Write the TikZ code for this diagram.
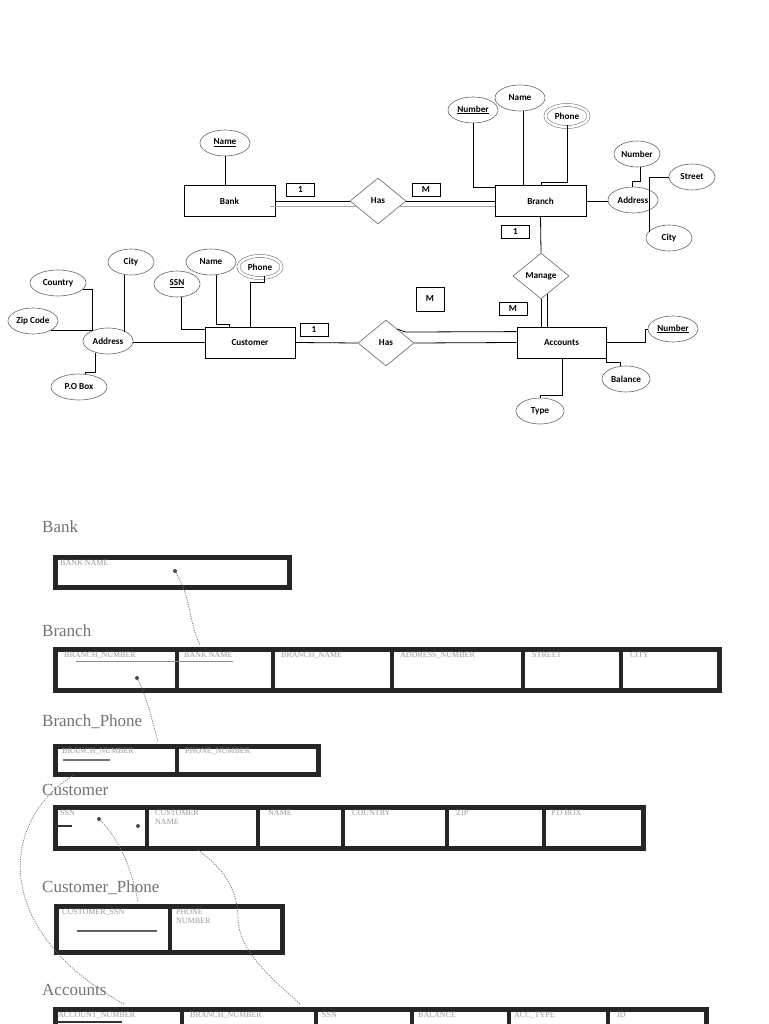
\documentclass[tikz,border=0pt]{standalone}
\usepackage{fontspec}
\setmainfont{Carlito}
\newfontfamily\schemafont{Liberation Serif}
\usetikzlibrary{shapes.geometric,calc}
\begin{document}
\begin{tikzpicture}[x=1pt,y=-1pt,
  erfont/.style={font=\bfseries\fontsize{9.2}{10}\selectfont},
  entity/.style={draw, line width=0.8pt, rectangle, inner sep=0pt, minimum height=31pt, erfont},
  attr/.style={draw=black!60, line width=0.6pt, ellipse, inner sep=0pt, minimum height=26pt, erfont},
  mattr/.style={draw=black!60, line width=0.5pt, double, double distance=2.5pt, ellipse, inner sep=0pt, minimum height=22pt, minimum width=43pt, erfont},
  rel/.style={draw=black!60, line width=0.6pt, diamond, inner sep=0pt, minimum width=56pt, minimum height=46pt, erfont},
  card/.style={draw, line width=0.8pt, rectangle, inner sep=0pt, minimum width=28pt, minimum height=13pt, erfont},
  conn/.style={line width=0.8pt},
  conng/.style={line width=0.8pt, draw=black!35},
  tbl/.style={draw=black!85, line width=5pt, rectangle, inner sep=0pt, anchor=north west},
  divl/.style={draw=black!85, line width=4pt},
  tname/.style={font=\schemafont\fontsize{17}{19}\selectfont, text=black!55, anchor=base west, inner sep=0pt},
  cell/.style={font=\schemafont\fontsize{8}{9}\selectfont, text=black!40, anchor=north west, inner sep=0pt, align=left},
  fk/.style={draw=black!55, line width=0.7pt, dash pattern=on 1.2pt off 1.2pt},
  keydot/.style={circle, fill=black!70, inner sep=0pt, minimum size=4pt}
]
\useasboundingbox[fill=white] (0,0) rectangle (768,1024);

% ================= ER diagram =================
% Bank
\node[entity, minimum width=91pt] (bank) at (229.5,201) {Bank};
\node[attr, minimum width=50pt] (bankname) at (225,143) {\underline{Name}};
\node[rel] (has1) at (378,201) {Has};
\node[card] (c1a) at (300.5,189.5) {1};
\node[card] (cMa) at (426,189.5) {M};

% Branch
\node[entity, minimum width=91pt] (branch) at (540.5,201) {Branch};
\node[attr, minimum width=50pt] (brnum) at (473,110) {\underline{Number}};
\node[attr, minimum width=50pt] (brname) at (520,98) {Name};
\node[mattr] (brphone) at (567,116) {Phone};
\node[attr, minimum width=50pt] (braddr) at (633,200) {Address};
\node[attr, minimum width=46pt] (adnum) at (637,154) {Number};
\node[attr, minimum width=46pt] (street) at (692,177) {Street};
\node[attr, minimum width=46pt] (brcity) at (669,238) {City};
\node[card] (c1b) at (515.5,231.5) {1};
\node[rel] (manage) at (541,276) {Manage};
\node[card] (cMb) at (513,309) {M};
\node[card, minimum height=24pt] (cMc) at (430,299) {M};

% Accounts
\node[entity, minimum width=89pt] (accounts) at (561.5,342.5) {Accounts};
\node[attr, minimum width=50pt] (acnum) at (673,329) {\underline{Number}};
\node[attr, minimum width=48pt] (balance) at (626,379) {Balance};
\node[attr, minimum width=48pt] (type) at (540,411) {Type};

% Customer
\node[rel] (has2) at (386,343) {Has};
\node[card] (c1c) at (314,329.5) {1};
\node[entity, minimum width=90pt] (customer) at (250,342.5) {Customer};
\node[attr, minimum width=46pt] (ssn) at (177,284) {\underline{SSN}};
\node[attr, minimum width=50pt] (cname) at (211,262) {Name};
\node[mattr] (cphone) at (260,267) {Phone};
\node[attr, minimum width=50pt] (caddr) at (108,341) {Address};
\node[attr, minimum width=46pt] (ccity) at (131,262) {City};
\node[attr, minimum width=56pt] (country) at (58,283) {Country};
\node[attr, minimum width=50pt] (zip) at (33,321) {Zip Code};
\node[attr, minimum width=56pt] (pobox) at (79,387) {P.O Box};

% ---- ER connectors
\draw[conn] (bankname.south) -- (bankname.south |- bank.north);
\draw[conn] (bank.east) -- (has1.west);
\draw[conng] ($(bank.east)+(-5,5)$) -- ($(has1.west)+(6,5)$);
\draw[conn] (has1.east) -- (branch.west);
\draw[conng] ($(has1.east)+(-6,5)$) -- ($(branch.west)+(0,5)$);

\draw[conn] (brnum.south) |- ([yshift=-2pt]branch.north west);
\draw[conn] ([xshift=3pt]brname.south) -- ([xshift=3pt]brname.south |- branch.north);
\draw[conn] (brphone.south) ++(0,-2) -- ++(0,57) -| ([xshift=1pt]branch.north);
\draw[conn] (branch.east) -- (branch.east -| braddr.west);
\draw[conn] ([xshift=3pt]adnum.south) -- ++(0,14) -| ([xshift=-1pt]braddr.north);
\draw[conn] (street.west) -- ++(-19,0) -- ++(0,55);

\draw[conn] (branch.south) -- (manage.north);
\draw[conn] (manage.south) -- (manage.south |- accounts.north);
\draw[conn] ($(manage.south)+(6,-5)$) -- ($(manage.south |- accounts.north)+(6,0)$);

\draw[conn] (customer.east) -- (has2.west);
\draw[conn] (has2.east) -- (accounts.west);
\draw[conn] ($(has2.north)!0.4!(has2.east)$) -- ++(8,3) -- ($(accounts.north west)+(0,5)$);

\draw[conn] (accounts.east) -- ++(39,0) |- (acnum.west);
\draw[conn] (accounts.south east) -- ++(0,4) -| ([xshift=-6pt]balance.north);
\draw[conn] ([xshift=0.5pt]accounts.south) -- ++(0,37) -| (type.north);

\draw[conn] ([xshift=4pt]ssn.south) |- ([yshift=-3pt]customer.north west);
\draw[conn] ([xshift=5pt]cname.south) -- ++(0,49) -| ([xshift=25pt]customer.north west);
\draw[conn] ([xshift=4pt]cphone.south) ++(0,-2) -- ++(0,6) -| (customer.north);
\draw[conn] (caddr.east |- customer.west) -- (customer.west);
\draw[conn] ([xshift=-7pt]ccity.south) -- ++(0,57);
\draw[conn] ($(country.east)+(-3,6)$) -- ++(9,0) -- ++(0,42);
\draw[conn] ($(zip.center)+(18,9)$) -- ++(41,0);
\draw[conn] ($(caddr.center)+(-13,12)$) -- ++(0,19) -| ([xshift=6pt]pobox.north);

% ================= Relational schema =================
\node[tname] (lbank) at (42,532) {Bank};
\node[tbl, minimum width=234pt, minimum height=30pt] (tbank) at (52.5,555) {};
\node[cell] at (60,560) {BANK NAME};

\node[tname] (lbranch) at (42,636) {Branch};
\node[tbl, minimum width=664pt, minimum height=41pt] (tbranch) at (52.5,647) {};
\foreach \x in {177,273,392,523,621} \draw[divl] (\x,647) -- (\x,688);
\node[cell] at (64,652) {BRANCH\_NUMBER};
\node[cell] at (184,652) {BANK NAME};
\node[cell] at (281,652) {BRANCH\_NAME};
\node[cell] at (400,652) {ADDRESS\_NUMBER};
\node[cell] at (532,652) {STREET};
\node[cell] at (630,652) {CITY};
\draw[black!45, line width=1pt] (76,661) -- (233,661);

\node[tname] (lbrph) at (42,726) {Branch\_Phone};
\node[tbl, minimum width=263pt, minimum height=28pt] (tbrph) at (52.5,743.5) {};
\draw[divl] (177,743.5) -- (177,771.5);
\node[cell] at (62,748) {BRANCH\_NUMBER};
\node[cell] at (185,748) {PHONE\_NUMBER};
\draw[black!55, line width=1.5pt] (63,760) -- (110,760);

\node[tname] (lcust) at (42,795) {Customer};
\node[tbl, minimum width=588pt, minimum height=41pt] (tcust) at (52.5,805) {};
\foreach \x in {147,258,343,447,544} \draw[divl] (\x,805) -- (\x,846);
\node[cell] at (60,810) {SSN};
\node[cell] at (155,810) {CUSTOMER\\NAME};
\node[cell] at (268,810) {NAME};
\node[cell] at (352,810) {COUNTRY};
\node[cell] at (456,810) {ZIP};
\node[cell] at (551,810) {P.O BOX};
\draw[black!80, line width=2.2pt] (55,826) -- (72,826);

\node[tname] (lcph) at (42,892) {Customer\_Phone};
\node[tbl, minimum width=226pt, minimum height=46pt] (tcph) at (53.5,903.5) {};
\draw[divl] (170,903.5) -- (170,949.5);
\node[cell] at (62,909) {CUSTOMER\_SSN};
\node[cell] at (176,909) {PHONE\\NUMBER};
\draw[black!60, line width=1.5pt] (77,931) -- (157,931);

\node[tname] (lacc) at (42,995) {Accounts};
\node[tbl, minimum width=651pt, minimum height=40pt] (tacc) at (52.5,1006.5) {};
\foreach \x in {182,316,412,509,608} \draw[divl] (\x,1006.5) -- (\x,1046);
\node[cell] at (58,1012) {ACCOUNT\_NUMBER};
\node[cell] at (190,1012) {BRANCH\_NUMBER};
\node[cell] at (322,1012) {SSN};
\node[cell] at (418,1012) {BALANCE};
\node[cell] at (514,1012) {ACC\_TYPE};
\node[cell] at (617,1012) {ID};
\draw[black!80, line width=2pt] (56,1022) -- (122,1022);

% ---- foreign key curves
\node[keydot] (kbank) at (175,571) {};
\node[keydot] (kbranch) at (137,678) {};
\node[keydot] (kcust) at (99,819) {};
\node[keydot] (kcust2) at (138,826) {};
\coordinate (fbranch) at (200,645);
\coordinate (fbrph) at (158,742);
\coordinate (sbrph) at (74,775);
\coordinate (facc1) at (124,1004);
\coordinate (fcph) at (138,902);
\coordinate (scust) at (198,850);
\coordinate (facc2) at (300,1004);

\draw[fk] (kbank) .. controls (192,600) and (188,620) .. (fbranch);
\draw[fk] (kbranch) .. controls (148,700) and (152,720) .. (fbrph);
\draw[fk] (sbrph) .. controls (0,820) and (-10,930) .. (facc1);
\draw[fk] (kcust) .. controls (120,840) and (132,870) .. (fcph);
\draw[fk] (scust) .. controls (225,870) and (238,890) .. (238,920) .. controls (240,955) and (280,985) .. (facc2);
\end{tikzpicture}
\end{document}
